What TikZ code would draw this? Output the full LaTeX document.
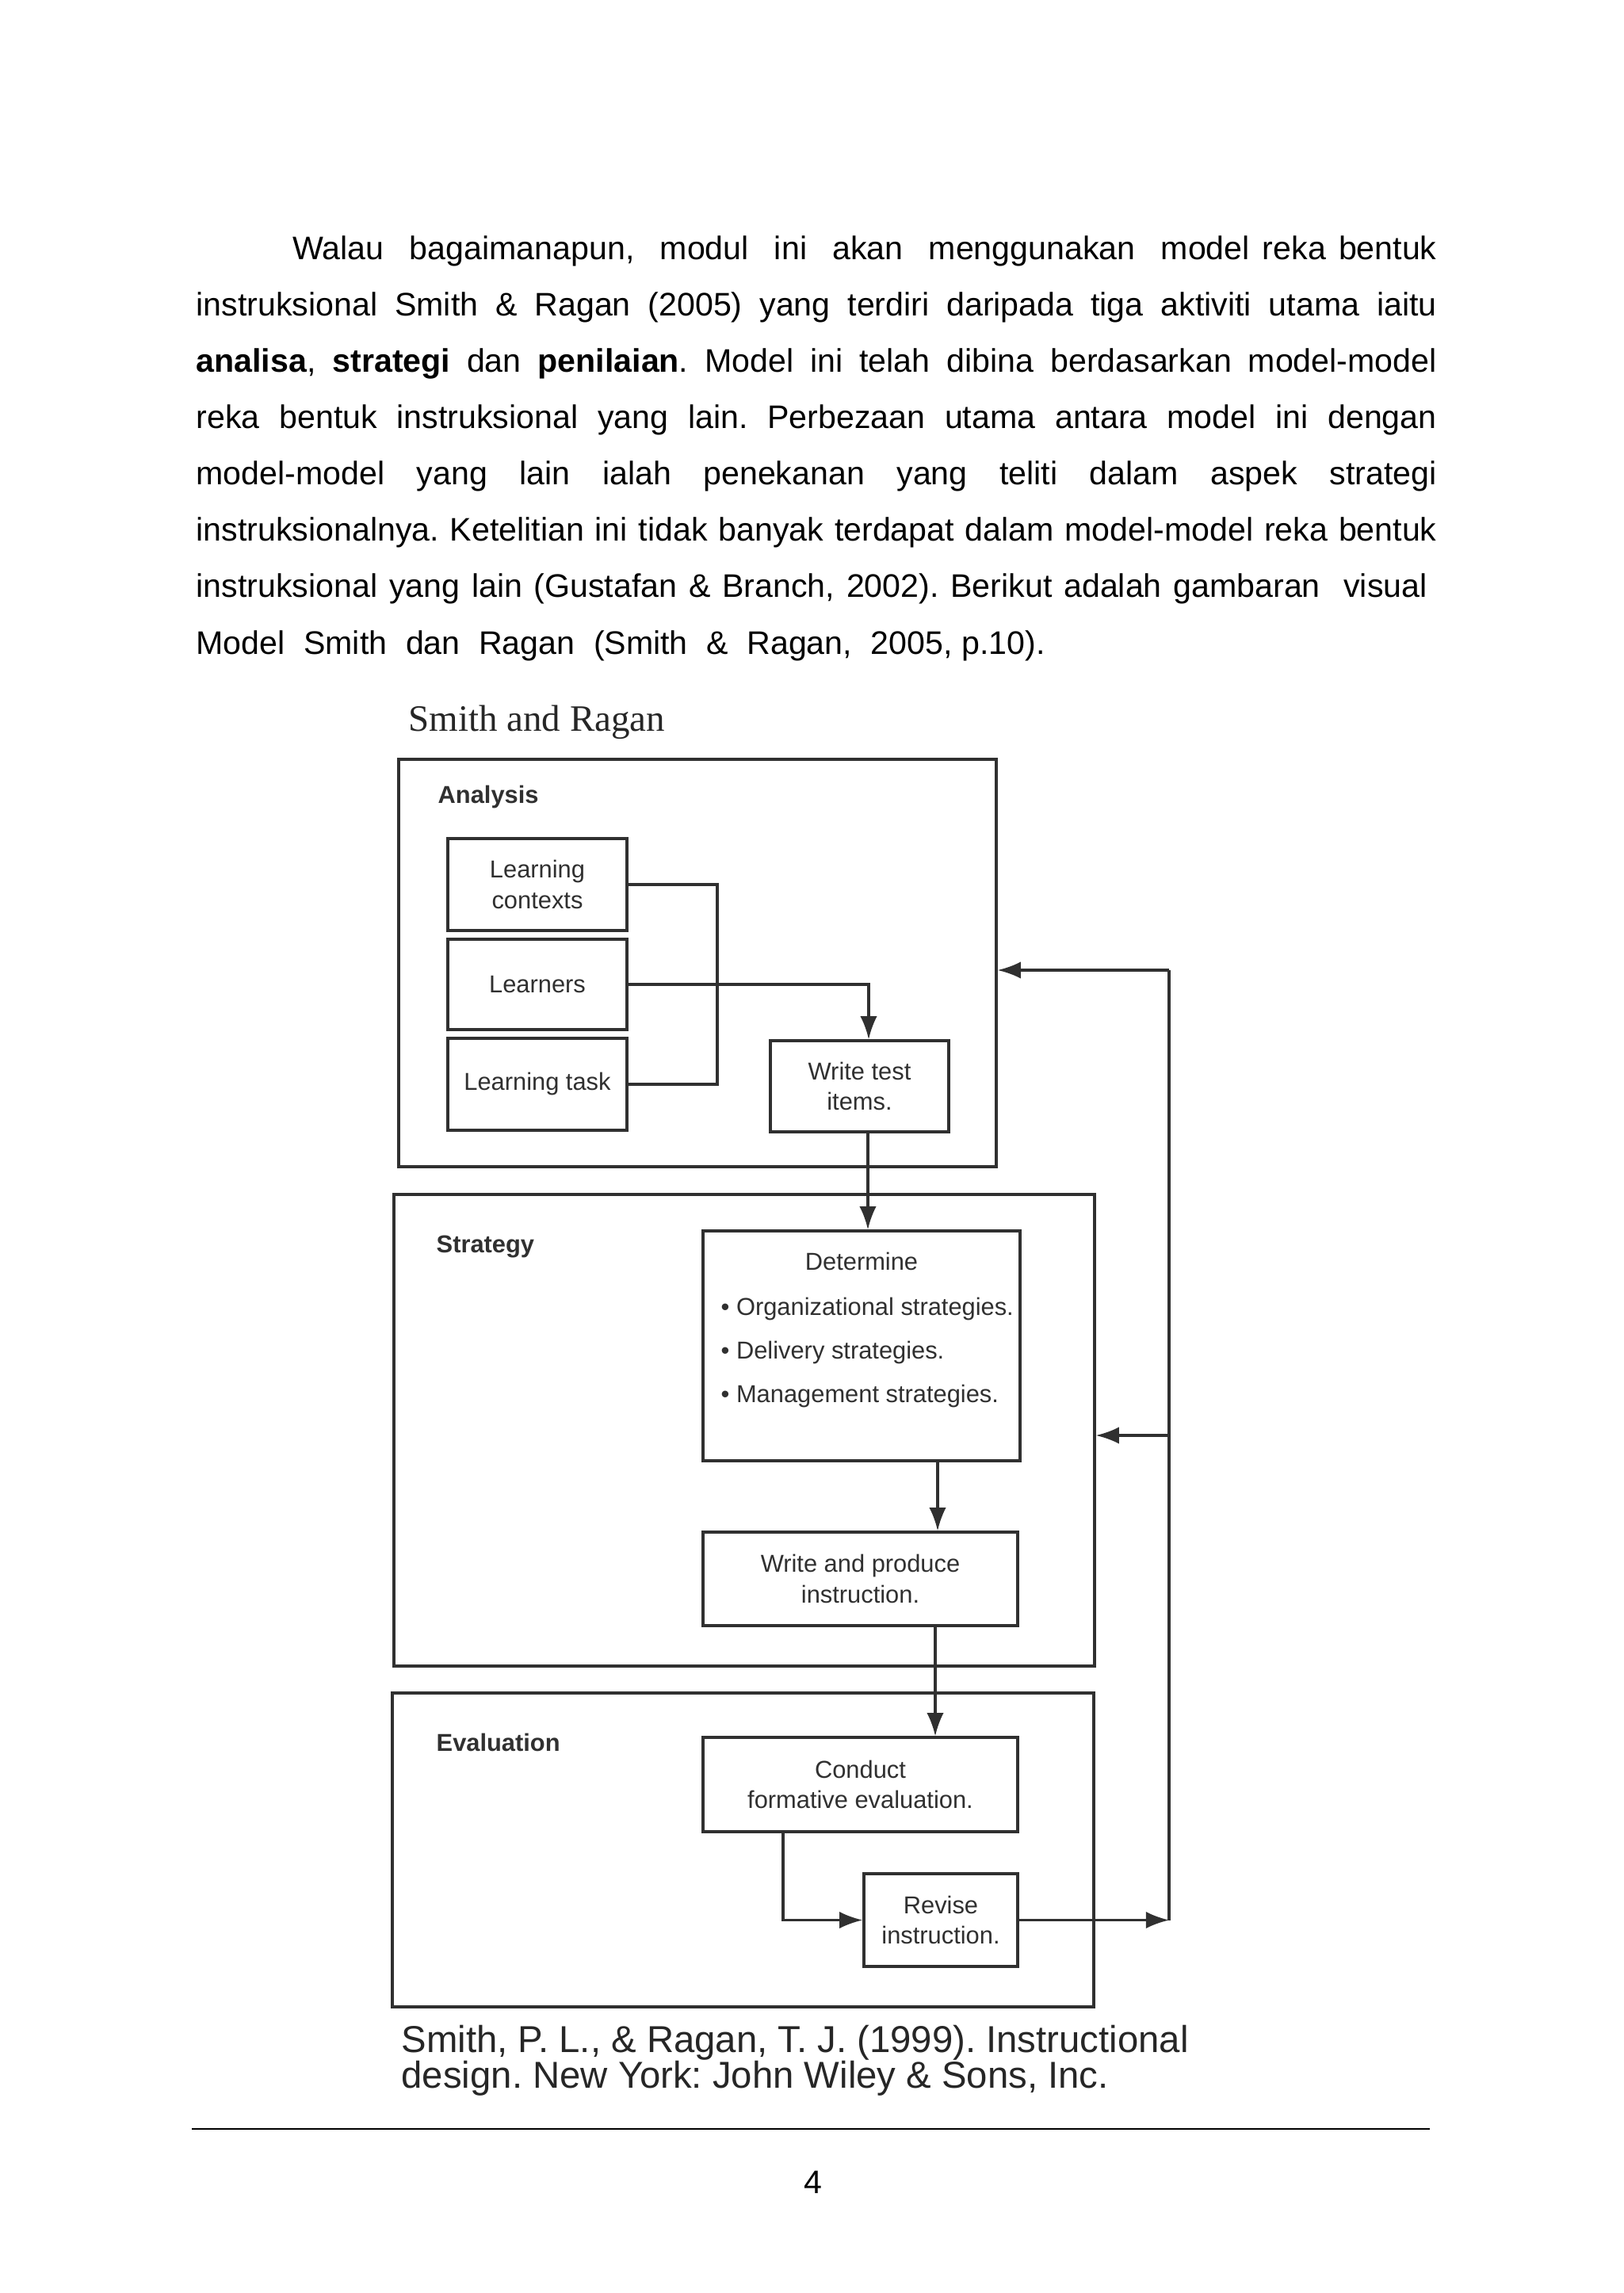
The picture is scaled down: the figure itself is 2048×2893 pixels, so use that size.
\documentclass[tikz,border=0pt]{standalone}
\usepackage{fontspec}
\setmainfont{Liberation Sans}
\newfontfamily\ttlfont{Liberation Serif}
\usetikzlibrary{arrows.meta}
\frenchspacing
\definecolor{dg}{HTML}{303030}
\newcommand\diagfont{\fontsize{9}{11.2}\selectfont}
\newcommand\diagfontb{\fontsize{9}{11.2}\selectfont\bfseries}
\newcommand\bodyfont{\fontsize{12}{14}\selectfont}
\tikzset{
  wh/.style 2 args={minimum width=#1*0.10254mm, minimum height=#2*0.10254mm},
  box/.style={draw=dg, line width=1pt, inner sep=0, align=center, font=\diagfont, text=dg},
  ln/.style={draw=dg, line width=0.9pt},
  arr/.style={draw=dg, line width=0.9pt, -{Latex[length=3mm,width=2.2mm]}},
  lbl/.style={font=\diagfontb, text=dg, anchor=base west, inner sep=0},
  txt/.style={font=\diagfont, text=dg, anchor=base west, inner sep=0},
  para/.style={font=\bodyfont, text=black, anchor=base west, inner sep=0},
  reftxt/.style={anchor=base west, inner sep=0, font=\fontsize{13.8}{15}\selectfont, text=black!85},
}
\begin{document}
\begin{tikzpicture}[x={(0.10254mm,0)}, y={(0,-0.10254mm)}]
\fill[white] (0,0) rectangle (2048,2893);
\useasboundingbox (0,0) rectangle (2048,2893);

% paragraph
\node[para] (p1) at (369,328) {\makebox[147.97mm][s]{Walau\ \ bagaimanapun,\ \ modul\ \ ini\ \ akan\ \ menggunakan\ \ model reka bentuk}};
\node[para] (p2) at (247,399) {\makebox[160.48mm][s]{instruksional Smith \& Ragan (2005) yang terdiri daripada tiga aktiviti utama iaitu}};
\node[para] (p3) at (247,470) {\makebox[160.48mm][s]{\textbf{analisa}, \textbf{strategi} dan \textbf{penilaian}. Model ini telah dibina berdasarkan model-model}};
\node[para] (p4) at (247,541) {\makebox[160.48mm][s]{reka bentuk instruksional yang lain. Perbezaan utama antara model ini dengan}};
\node[para] (p5) at (247,612) {\makebox[160.48mm][s]{model-model yang lain ialah penekanan yang teliti dalam aspek strategi}};
\node[para] (p6) at (247,683) {\makebox[160.48mm][s]{instruksionalnya. Ketelitian ini tidak banyak terdapat dalam model-model reka bentuk}};
\node[para] (p7) at (247,754) {\makebox[159.25mm][s]{instruksional yang lain (Gustafan \& Branch, 2002). Berikut adalah gambaran\ \ visual}};
\node[para] (p8) at (247,825) {\makebox[109.82mm][s]{Model\ \ Smith\ \ dan\ \ Ragan\ \ (Smith\ \ \&\ \ Ragan,\ \ 2005, p.10).}};

% title
\node[anchor=base west, inner sep=0, font=\ttlfont\fontsize{13.7}{15}\selectfont, text=black!85] (ttl) at (515,922) {Smith and Ragan};

% phase boxes
\node[box, wh={754}{514}] (ana) at (880,1215) {};
\node[box, wh={884}{595}] (str) at (939,1804.5) {};
\node[box, wh={885}{396}] (eva) at (937.5,2334) {};
\node[lbl] (anal) at (552,1013) {Analysis};
\node[lbl] (strl) at (550,1580) {Strategy};
\node[lbl] (eval) at (550,2209) {Evaluation};

% analysis boxes
\node[box, wh={226}{116}] (lc) at (678,1116) {Learning\\contexts};
\node[box, wh={226}{114}] (lr) at (678,1242) {Learners};
\node[box, wh={226}{116}] (lt) at (678,1368) {Learning task};
\node[box, wh={225}{115}] (wt) at (1084.5,1370.5) {Write test\\items.};

% strategy boxes
\node[box, wh={400}{290}] (det) at (1087,1698) {};
\node[txt, anchor=base] (dett) at (1087,1602) {Determine};
\node[txt] (b1) at (909,1659) {\textbullet\ Organizational strategies.};
\node[txt] (b2) at (909,1714) {\textbullet\ Delivery strategies.};
\node[txt] (b3) at (909,1769) {\textbullet\ Management strategies.};
\node[box, wh={397}{118}] (wp) at (1085.5,1992) {Write and produce\\instruction.};

% evaluation boxes
\node[box, wh={397}{119}] (cf) at (1085.5,2251.5) {Conduct\\formative evaluation.};
\node[box, wh={194}{117}] (rv) at (1187,2422.5) {Revise\\instruction.};

% helper coordinates
\coordinate (bk) at (905,0);
\coordinate (xa) at (1096,0);
\coordinate (xb) at (1095,0);
\coordinate (xc) at (1183,0);
\coordinate (xd) at (1180,0);
\coordinate (xe) at (988,0);
\coordinate (fbt) at (1475,1224);
\coordinate (fbm) at (1475,1811);

% connectors
\draw[ln] (lc.east) -- (lc.east -| bk) -- (lt.east -| bk) -- (lt.east);
\draw[arr] (lr.east) -| (wt.north -| xa);
\draw[arr] (wt.south -| xb) -- (det.north -| xb);
\draw[arr] (det.south -| xc) -- (wp.north -| xc);
\draw[arr] (wp.south -| xd) -- (cf.north -| xd);
\draw[arr] (cf.south -| xe) |- (rv.west);
\draw[arr] (rv.east) -- (rv.east -| fbt);
\draw[ln] (rv.east -| fbt) -- (fbt);
\draw[arr] (fbt) -- (fbt -| ana.east);
\draw[arr] (fbm) -- (fbm -| str.east);

% reference
\node[reftxt] (ref1) at (506,2589) {Smith, P. L., \& Ragan, T. J. (1999). Instructional};
\node[reftxt] (ref2) at (506,2634) {design. New York: John Wiley \& Sons, Inc.};

% footer
\coordinate (rl) at (242,2686);
\coordinate (rr) at (1804,2686);
\draw[line width=0.8pt] (rl) -- (rr);
\node[anchor=base, inner sep=0, font=\bodyfont] (pg) at (1026,2767) {4};
\end{tikzpicture}
\end{document}
